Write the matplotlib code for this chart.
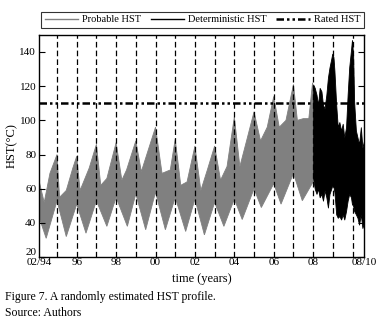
import numpy as np
import matplotlib
matplotlib.use("Agg")
import matplotlib.pyplot as plt
from matplotlib.lines import Line2D

plt.rcParams['font.family'] = ['Liberation Serif', 'DejaVu Serif']

# probable HST (gray band), upper and lower envelope
gray_up_t = [1994.10, 1994.35, 1994.64, 1995.00, 1995.13, 1995.47, 1995.80, 1996.00,
             1996.17, 1996.63, 1997.00, 1997.22, 1997.53, 1998.00, 1998.29, 1998.53,
             1999.00, 1999.28, 2000.00, 2000.33, 2000.75, 2001.00, 2001.28, 2001.60,
             2002.00, 2002.30, 2002.63, 2003.00, 2003.30, 2003.63, 2004.00, 2004.28,
             2004.62, 2005.00, 2005.33, 2005.67, 2006.00, 2006.28, 2006.62, 2007.00,
             2007.20, 2007.50, 2007.78, 2007.97, 2008.00]
gray_up = [64, 52, 69, 80, 55, 59, 72, 79,
           59, 72, 86, 62, 66, 87, 65, 71,
           88, 70, 96, 69, 71, 89, 62, 64,
           85, 59, 71, 85, 65, 73, 102, 73,
           88, 105, 88, 96, 114, 96, 100, 121,
           100, 101, 101, 122, 118]

gray_lo_t = [1994.10, 1994.45, 1995.00, 1995.47, 1996.00, 1996.47, 1997.00, 1997.53,
             1998.00, 1998.57, 1999.00, 1999.50, 2000.00, 2000.50, 2001.00, 2001.53,
             2002.00, 2002.48, 2003.00, 2003.47, 2004.00, 2004.40, 2005.00, 2005.37,
             2006.00, 2006.37, 2007.00, 2007.45, 2008.00]
gray_lo = [43, 31, 53, 32, 51, 34, 53, 38,
           55, 38, 57, 36, 58, 36, 55, 35,
           54, 33, 52, 38, 54, 42, 60, 49,
           63, 51, 69, 53, 64]

# deterministic HST (black), 2008 - 08/2010
det_t = [2008.00, 2008.08, 2008.17, 2008.25, 2008.33, 2008.42, 2008.50, 2008.58,
         2008.67, 2008.75, 2008.83, 2008.92, 2008.97, 2009.03, 2009.08, 2009.17,
         2009.25, 2009.33, 2009.42, 2009.50, 2009.58, 2009.67, 2009.75, 2009.83,
         2009.92, 2009.97, 2010.03, 2010.08, 2010.17, 2010.25, 2010.33, 2010.42,
         2010.50, 2010.58]
det_up = [121, 119, 115, 109, 119, 117, 109, 107,
          115, 125, 131, 136, 139, 137, 129, 109,
          96, 99, 94, 98, 90, 96, 115, 131,
          141, 147, 138, 111, 94, 90, 86, 96,
          84, 88]
det_lo = [66, 60, 57, 60, 55, 57, 53, 59,
          55, 49, 57, 60, 62, 61, 58, 45,
          43, 44, 42, 45, 42, 47, 53, 57,
          55, 51, 50, 47, 45, 43, 39, 45,
          37, 40]

rated_hst = 110
year_lines = list(range(1995, 2011))
tick_pos = [1994 + 1/12, 1996, 1998, 2000, 2002, 2004, 2006, 2008, 2010 + 7/12]
tick_labels = ['02/94', '96', '98', '00', '02', '04', '06', '08', '08/10']

gray = '#808080'

fig = plt.figure(figsize=(3.82, 3.23), dpi=100)
ax = fig.add_axes([0.102, 0.204, 0.851, 0.688])

# gray band
ax.fill(np.concatenate([gray_up_t, gray_lo_t[::-1]]),
        np.concatenate([gray_up, gray_lo[::-1]]), color=gray, lw=0.6, ec=gray)
# black band
ax.fill_between(det_t, det_lo, det_up, color='black', lw=0.6)

# yearly dashed lines
for y in year_lines:
    ax.axvline(y, color='black', lw=0.9, ls=(0, (4.5, 2.5)), zorder=3)

ax.axhline(rated_hst, color='black', lw=1.8, ls=(0, (3, 1.2, 1, 1.2, 1, 1.2)), zorder=4)

ax.set_xlim(1994 + 1/12, 2010 + 7/12)
ax.set_ylim(20, 150)
ax.set_yticks([20, 40, 60, 80, 100, 120, 140])
ax.set_xticks(tick_pos)
ax.set_xticklabels(tick_labels)
ax.tick_params(axis='y', direction='in', length=4, right=True, labelsize=8, pad=2)
ax.tick_params(axis='x', length=0, labelsize=8, pad=1)
# the bottom y label sits a little higher, as in the reference
ax.get_yticklabels()[0].set_verticalalignment('bottom')
for s in ax.spines.values():
    s.set_linewidth(1.0)

ax.set_xlabel('time (years)', fontsize=9, labelpad=4)
ax.set_ylabel('HST(\u00b0C)', fontsize=9, labelpad=1)

handles = [Line2D([], [], color=gray, lw=1),
           Line2D([], [], color='black', lw=1),
           Line2D([], [], color='black', lw=1.8, ls=(0, (3, 1.2, 1, 1.2, 1, 1.2)))]
leg = fig.legend(handles, ['Probable HST', 'Deterministic HST', 'Rated HST'],
                 loc='lower left', bbox_to_anchor=(0.107, 0.913, 0.846, 0.056),
                 mode='expand', ncol=3, fontsize=7.5, fancybox=False, edgecolor='black',
                 borderpad=0.35, handlelength=3.2, handletextpad=0.4, columnspacing=0.5,
                 borderaxespad=0)
leg.get_frame().set_linewidth(0.8)

fig.text(0.013, 0.072, 'Figure 7. A randomly estimated HST profile.', fontsize=8.5)
fig.text(0.013, 0.022, 'Source: Authors', fontsize=8.5)

fig.savefig('out.png', dpi=100)
